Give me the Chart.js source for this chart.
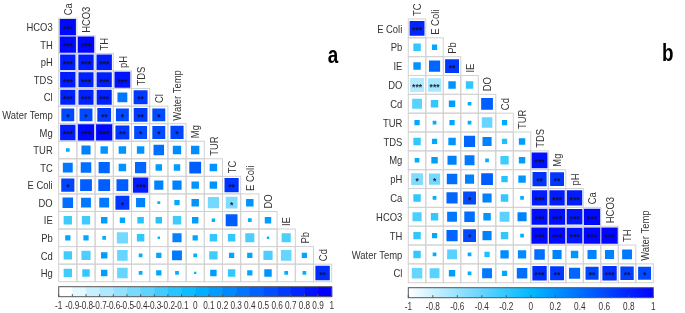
<!DOCTYPE html>
<html lang="en">
<head>
<meta charset="UTF-8" />
<title>Correlation matrices a / b</title>
<script src="https://cdn.jsdelivr.net/npm/chart.js"></script>
<style>
  html, body { margin: 0; padding: 0; background: #fff; }
  #wrap { position: relative; width: 685px; height: 313px; }
  canvas { position: absolute; top: 0; }
  #chartA { left: 0; }
  #chartB { left: 342px; }
</style>
</head>
<body>
<div id="wrap">
  <canvas id="chartA" width="342" height="313"></canvas>
  <canvas id="chartB" width="343" height="313"></canvas>
</div>
<script>
// ---- panel a ----
const colsA = ['Ca', 'HCO3', 'TH', 'pH', 'TDS', 'Cl', 'Water Temp', 'Mg', 'TUR', 'TC', 'E Coli', 'DO', 'IE', 'Pb', 'Cd'];
const rowsA = ['HCO3', 'TH', 'pH', 'TDS', 'Cl', 'Water Temp', 'Mg', 'TUR', 'TC', 'E Coli', 'DO', 'IE', 'Pb', 'Cd', 'Hg'];
const valsA = [
  [0.95],
  [0.95, 0.97],
  [0.85, 0.85, 0.85],
  [0.85, 0.82, 0.83, 0.90],
  [0.82, 0.82, 0.82, 0.35, 0.70],
  [0.60, 0.60, 0.68, 0.60, 0.68, 0.60],
  [0.85, 0.95, 0.95, 0.70, 0.60, 0.60, 0.62],
  [0.05, 0.30, 0.20, 0.20, 0.20, 0.40, 0.25, 0.25],
  [0.35, 0.40, 0.45, 0.20, 0.45, 0.15, 0.15, 0.50, 0.20],
  [0.62, 0.50, 0.50, 0.50, 0.85, 0.30, 0.30, 0.20, 0.20, 0.72],
  [0.40, 0.35, 0.35, 0.70, 0.30, 0.03, 0.10, 0.20, -0.45, -0.50, 0.20],
  [-0.25, -0.25, 0.15, 0.10, -0.15, -0.15, -0.25, 0.15, 0.04, 0.50, 0.05, 0.15],
  [0.10, 0.10, 0.05, -0.45, -0.20, 0.02, 0.30, 0.10, -0.20, -0.20, -0.30, 0.02, -0.30],
  [-0.25, -0.30, 0.15, -0.40, 0.05, 0.10, 0.35, 0.05, -0.25, 0.10, 0.10, -0.30, -0.40, 0.10],
  [-0.25, -0.20, 0.15, -0.40, 0.05, 0.10, 0.05, 0.02, 0.15, -0.20, 0.10, 0.20, 0.05, 0.05, 0.75]
];
// significance stars per cell (missing = none)
const starsA = [
  [3],
  [3, 3],
  [3, 3, 3],
  [3, 3, 3, 3],
  [3, 3, 3, 0, 2],
  [1, 1, 2, 1, 2, 1],
  [3, 3, 3, 2, 1, 1, 1],
  [],
  [],
  [1, 0, 0, 0, 3, 0, 0, 0, 0, 2],
  [0, 0, 0, 1, 0, 0, 0, 0, 0, 1],
  [],
  [],
  [],
  [0, 0, 0, 0, 0, 0, 0, 0, 0, 0, 0, 0, 0, 0, 2]
];
const ticksA = ['-1', '-0.9', '-0.8', '-0.7', '-0.6', '-0.5', '-0.4', '-0.3', '-0.2', '-0.1', '0',
                '0.1', '0.2', '0.3', '0.4', '0.5', '0.6', '0.7', '0.8', '0.9', '1'];

// ---- panel b ----
const colsB = ['TC', 'E Coli', 'Pb', 'IE', 'DO', 'Cd', 'TUR', 'TDS', 'Mg', 'pH', 'Ca', 'HCO3', 'TH', 'Water Temp'];
const rowsB = ['E Coli', 'Pb', 'IE', 'DO', 'Cd', 'TUR', 'TDS', 'Mg', 'pH', 'Ca', 'HCO3', 'TH', 'Water Temp', 'Cl'];
const valsB = [
  [0.80],
  [-0.20, 0.10],
  [0.20, 0.45, 0.70],
  [-0.70, -0.65, 0.20, -0.20],
  [-0.35, -0.20, 0.15, 0.05, 0.50],
  [0.10, 0.05, 0.10, 0.05, -0.40, 0.10],
  [-0.20, 0.10, 0.20, 0.45, 0.30, -0.10, 0.15],
  [0.08, 0.15, 0.30, 0.35, 0.05, -0.25, 0.15, 0.90],
  [-0.50, -0.45, 0.40, 0.30, 0.50, -0.15, 0.20, 0.72, 0.70],
  [-0.20, 0.05, 0.45, 0.60, 0.30, -0.20, 0.05, 0.85, 0.85, 0.85],
  [-0.30, -0.20, 0.35, 0.40, 0.20, -0.35, 0.30, 0.92, 0.92, 0.88, 0.95],
  [-0.20, 0.10, 0.45, 0.60, 0.30, -0.20, 0.05, 0.95, 0.95, 0.88, 0.97, 0.97],
  [-0.20, 0.05, -0.35, 0.05, -0.10, 0.25, 0.25, 0.40, 0.30, 0.20, 0.30, 0.30, 0.35],
  [-0.40, -0.35, 0.15, 0.05, 0.35, 0.10, 0.40, 0.75, 0.70, 0.45, 0.62, 0.75, 0.65, 0.60]
];
const starsB = [
  [3],
  [],
  [0, 0, 2],
  [3, 3],
  [],
  [],
  [],
  [0, 0, 0, 0, 0, 0, 0, 3],
  [1, 1, 0, 0, 0, 0, 0, 2, 2],
  [0, 0, 0, 1, 0, 0, 0, 3, 3, 3],
  [0, 0, 0, 0, 0, 0, 0, 3, 3, 3, 3],
  [0, 0, 0, 1, 0, 0, 0, 3, 3, 3, 3, 3],
  [],
  [0, 0, 0, 0, 0, 0, 0, 3, 2, 0, 2, 3, 2, 1]
];
const ticksB = ['-1', '-0.8', '-0.6', '-0.4', '-0.2', '0', '0.2', '0.4', '0.6', '0.8', '1'];

// white (-1) -> deep sky blue (0) -> blue (1)
const LOW = [255, 255, 255], MID = [0, 185, 255], HIGH = [0, 0, 255];
function corrColor(r) {
  const a = r < 0 ? LOW : MID, b = r < 0 ? MID : HIGH, t = r < 0 ? r + 1 : r;
  return 'rgb(' + a.map((v, i) => Math.round(v + (b[i] - v) * t)).join(',') + ')';
}

const FONT = '"Liberation Sans", Arial, sans-serif';
const SQUEEZE = 0.82;   // the original labels are set in a narrow face

function narrowText(ctx, s, x, y) {
  ctx.fillText(s, x, y, ctx.measureText(s).width * SQUEEZE);
}

function cellSize(chart) {
  const { x, y } = chart.scales;
  return {
    w: Math.abs(x.getPixelForValue(1) - x.getPixelForValue(0)),
    h: Math.abs(y.getPixelForValue(1) - y.getPixelForValue(0))
  };
}

function corrPlugin(p) {
  return {
    id: 'corrDecor',
    beforeDatasetsDraw(chart) {
      const { ctx, chartArea: a, scales: { x, y } } = chart;
      const { w, h } = cellSize(chart);
      ctx.save();
      // cell grid, lower triangle
      ctx.strokeStyle = '#d2d2d2';
      ctx.lineWidth = 1;
      p.rows.forEach((r, i) => {
        for (let j = 0; j <= i; j++) {
          const px = x.getPixelForValue(j) - w / 2, py = y.getPixelForValue(i) - h / 2;
          ctx.strokeRect(px, py, w, h);
        }
      });
      // row labels
      ctx.fillStyle = '#333';
      ctx.font = '11.5px ' + FONT;
      ctx.textAlign = 'right';
      ctx.textBaseline = 'middle';
      p.rows.forEach((r, i) => narrowText(ctx, r, a.left - 6, y.getPixelForValue(i) + 1));
      // column labels, rotated, above the top cell of each column
      ctx.textAlign = 'left';
      p.cols.forEach((c, j) => {
        ctx.save();
        ctx.translate(x.getPixelForValue(j) + 1, y.getPixelForValue(j) - h / 2 - 3);
        ctx.rotate(-Math.PI / 2);
        narrowText(ctx, c, 0, 0);
        ctx.restore();
      });
      // colour legend
      const x0 = a.left, x1 = a.right, yb = a.bottom + 5, bh = 10;
      if (p.discrete) {
        const n = p.ticks.length - 1;
        for (let k = 0; k < n; k++) {
          ctx.fillStyle = corrColor(-1 + 2 * k / (n - 1));
          ctx.fillRect(x0 + (x1 - x0) * k / n, yb, (x1 - x0) / n + 0.5, bh);
        }
      } else {
        const g = ctx.createLinearGradient(x0, 0, x1, 0);
        g.addColorStop(0, corrColor(-1));
        g.addColorStop(0.5, corrColor(0));
        g.addColorStop(1, corrColor(1));
        ctx.fillStyle = g;
        ctx.fillRect(x0, yb, x1 - x0, bh);
      }
      ctx.strokeStyle = '#555';
      ctx.strokeRect(x0, yb, x1 - x0, bh);
      ctx.fillStyle = '#333';
      ctx.font = '10px ' + FONT;
      ctx.textAlign = 'center';
      p.ticks.forEach((t, k) => {
        const px = x0 + (x1 - x0) * k / (p.ticks.length - 1);
        ctx.beginPath();
        ctx.moveTo(px, yb + bh - 2.5);
        ctx.lineTo(px, yb + bh);
        ctx.stroke();
        narrowText(ctx, t, px, yb + bh + 10);
      });
      // panel tag
      ctx.font = 'bold 23px ' + FONT;
      ctx.fillStyle = '#000';
      ctx.textAlign = 'center';
      narrowText(ctx, p.tag, p.tagX, p.tagY);
      ctx.restore();
    },
    afterDatasetsDraw(chart) {
      const { ctx, scales: { x, y } } = chart;
      ctx.save();
      ctx.fillStyle = 'rgba(15,15,35,0.9)';
      ctx.font = 'bold 8.5px ' + FONT;
      ctx.textAlign = 'center';
      ctx.textBaseline = 'middle';
      p.rows.forEach((r, i) => {
        (p.stars[i] || []).forEach((s, j) => {
          if (s) ctx.fillText('*'.repeat(s), x.getPixelForValue(j), y.getPixelForValue(i) + 2.5);
        });
      });
      ctx.restore();
    }
  };
}

function buildChart(id, p) {
  const points = [];
  p.vals.forEach((row, i) => row.forEach((v, j) => points.push({ x: j, y: i, v: v })));
  return new Chart(document.getElementById(id), {
    type: 'scatter',
    data: {
      datasets: [{
        data: points,
        pointStyle: 'rect',
        pointBorderWidth: 0,
        pointBackgroundColor: c => corrColor(c.raw.v),
        pointRadius: c => {
          const { w, h } = cellSize(c.chart);
          return Math.sqrt(Math.abs(c.raw.v)) * Math.min(w, h) * 0.95 / Math.SQRT2;
        }
      }]
    },
    options: {
      responsive: false,
      animation: false,
      events: [],
      layout: { padding: p.pad },
      plugins: { legend: { display: false }, tooltip: { enabled: false } },
      scales: {
        x: { type: 'linear', display: false, min: -0.5, max: p.cols.length - 0.5 },
        y: { type: 'linear', display: false, min: -0.5, max: p.rows.length - 0.5, reverse: true }
      }
    },
    plugins: [corrPlugin(p)]
  });
}

buildChart('chartA', {
  rows: rowsA, cols: colsA, vals: valsA, stars: starsA, ticks: ticksA, discrete: true,
  tag: 'a', tagX: 333, tagY: 57,
  pad: { left: 58.7, right: 10.3, top: 18.3, bottom: 31.3 }
});
buildChart('chartB', {
  rows: rowsB, cols: colsB, vals: valsB, stars: starsB, ticks: ticksB, discrete: false,
  tag: 'b', tagX: 325.7, tagY: 55,
  pad: { left: 66.3, right: 31.7, top: 19, bottom: 30.3 }
});
</script>
</body>
</html>
